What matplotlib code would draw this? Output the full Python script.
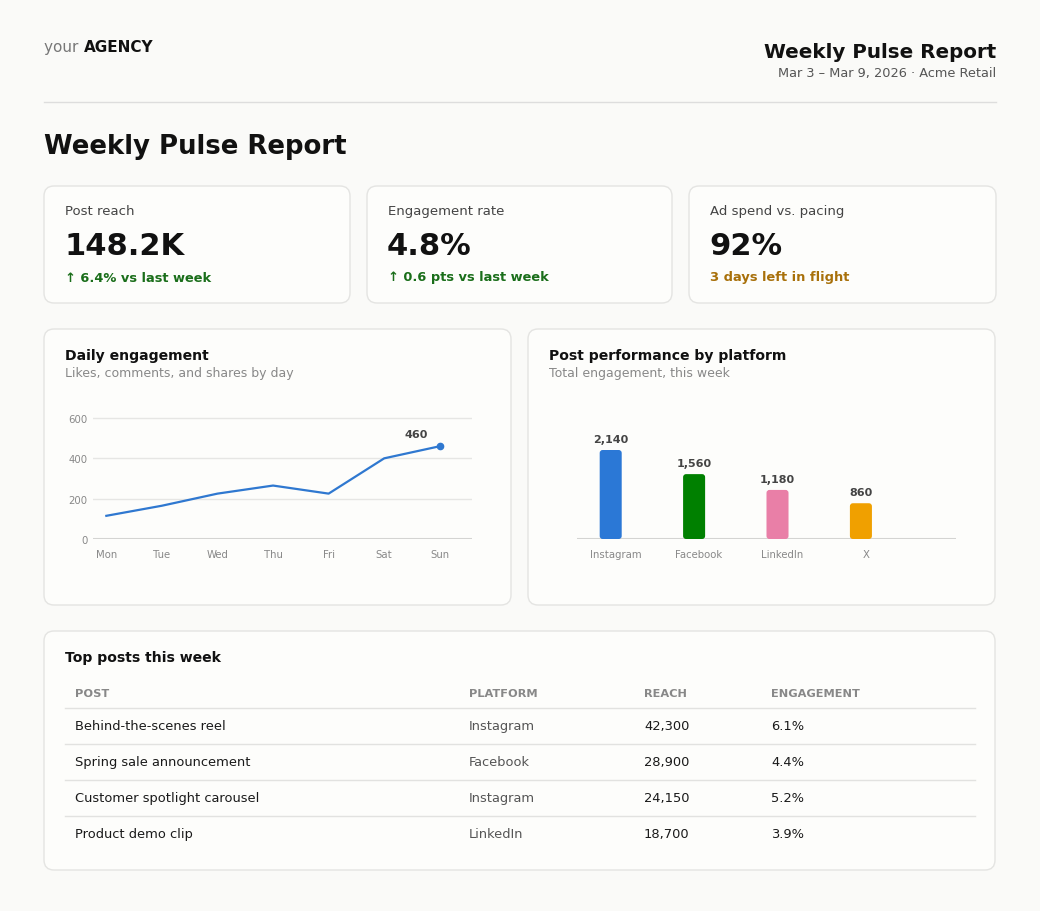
import matplotlib
matplotlib.use("Agg")
import matplotlib.pyplot as plt
from matplotlib.patches import FancyBboxPatch

plt.rcParams['font.family'] = ['DejaVu Sans']

# data
days = ['Mon', 'Tue', 'Wed', 'Thu', 'Fri', 'Sat', 'Sun']
engagement = [115, 165, 225, 265, 225, 400, 460]
y_ticks = [0, 200, 400, 600]

platforms = ['Instagram', 'Facebook', 'LinkedIn', 'X']
platform_totals = [2140, 1560, 1180, 860]
platform_colors = ['#2b78d6', '#008000', '#e97fa7', '#f0a000']

kpi_labels = ['Post reach', 'Engagement rate', 'Ad spend vs. pacing']
kpi_values = ['148.2K', '4.8%', '92%']
kpi_notes = ['\u2191 6.4% vs last week', '\u2191 0.6 pts vs last week', '3 days left in flight']
kpi_note_colors = ['#1a6e1a', '#1a6e1a', '#a8700a']

table_cols = ['POST', 'PLATFORM', 'REACH', 'ENGAGEMENT']
post_names = ['Behind-the-scenes reel', 'Spring sale announcement',
              'Customer spotlight carousel', 'Product demo clip']
post_platforms = ['Instagram', 'Facebook', 'Instagram', 'LinkedIn']
post_reach = [42300, 28900, 24150, 18700]
post_engagement = [6.1, 4.4, 5.2, 3.9]

W, H = 1040, 912
BG = '#fafaf8'
CARD = '#fdfdfb'
BORDER = '#e4e4e2'

fig = plt.figure(figsize=(W / 100, H / 100), dpi=100, facecolor=BG)


def fx(x):
    return x / W


def fy(y):
    return 1 - y / H


def text(x, y, s, size, color='#111111', weight='normal', ha='left', va='center'):
    fig.text(fx(x), fy(y), s, fontsize=size, color=color, fontweight=weight, ha=ha, va=va)


def card(x0, y0, x1, y1):
    p = FancyBboxPatch((x0, H - y1), x1 - x0, y1 - y0,
                       boxstyle='round,pad=0,rounding_size=10',
                       transform=None, facecolor=CARD, edgecolor=BORDER, linewidth=1,
                       zorder=-1)
    fig.patches.append(p)


# header
fig.text(fx(44), fy(48), 'your ', fontsize=11, color='#777777', ha='left', va='center')
text(84, 48, 'AGENCY', 11, weight='bold')
text(996, 52, 'Weekly Pulse Report', 14.3, weight='bold', ha='right')
text(996, 74, 'Mar 3 \u2013 Mar 9, 2026 \u00b7 Acme Retail', 9.3, color='#555555', ha='right')
fig.add_artist(plt.Line2D([fx(44), fx(996)], [fy(103), fy(103)], color='#dddddd', lw=1))
text(44, 147, 'Weekly Pulse Report', 18.7, weight='bold')

# kpi cards
kpi_x = [(44, 350), (367, 672), (689, 996)]
for (x0, x1), lab, val, note, nc in zip(kpi_x, kpi_labels, kpi_values, kpi_notes, kpi_note_colors):
    card(x0, 187, x1, 304)
    text(x0 + 21, 212, lab, 9.5, color='#444444')
    text(x0 + 20, 247, val, 22, weight='bold')
    text(x0 + 21, 278, note, 9.4, color=nc, weight='bold')

# chart cards
card(44, 330, 511, 606)
card(528, 330, 995, 606)
text(65, 356, 'Daily engagement', 10.1, weight='bold')
text(65, 373, 'Likes, comments, and shares by day', 9, color='#888888')
text(549, 356, 'Post performance by platform', 10.1, weight='bold')
text(549, 373, 'Total engagement, this week', 9, color='#888888')

# line chart
ax1 = fig.add_axes([fx(93), fy(540), fx(472) - fx(93), (540 - 412) / H])
ax1.set_facecolor('none')
xs = list(range(len(days)))
ax1.plot(xs, engagement, color='#2f78d0', lw=1.6, clip_on=False)
ax1.plot(xs[-1], engagement[-1], 'o', color='#2f78d0', ms=4.5, clip_on=False)
ax1.annotate(f'{engagement[-1]}', (xs[-1], engagement[-1]), xytext=(-24, 12),
             textcoords='offset pixels', ha='center', va='center',
             fontsize=8, fontweight='bold', color='#444444')
ax1.set_xlim(-0.24, 6.58)
ax1.set_ylim(0, 600 * 128 / 121)
ax1.set_yticks(y_ticks)
ax1.set_yticklabels([str(t) for t in y_ticks])
ax1.set_xticks(xs)
ax1.set_xticklabels(days)
for t in y_ticks[1:]:
    ax1.axhline(t, color='#e6e6e4', lw=1, zorder=0)
ax1.axhline(0, color='#d4d4d2', lw=1.5, zorder=0)
for s in ax1.spines.values():
    s.set_visible(False)
ax1.tick_params(length=0, labelsize=7.3, colors='#888888')
ax1.tick_params(axis='y', pad=4)
ax1.tick_params(axis='x', pad=7)

# bar chart
ax2 = fig.add_axes([fx(577), fy(540), fx(956) - fx(577), (540 - 412) / H])
ax2.set_facecolor('none')
bx = list(range(len(platforms)))
bars = ax2.bar(bx, platform_totals, width=0.264, color=platform_colors)
ax2.set_xlim(-0.404, 4.14)
ymax = 2140 * 128 / 89
ax2.set_ylim(0, ymax)
# round the bar corners
px_x = (4.14 + 0.404) / (956 - 577)
px_y = ymax / 128
for b, c in zip(bars, platform_colors):
    x, y, w, h = b.get_x(), b.get_y(), b.get_width(), b.get_height()
    b.set_visible(False)
    rb = FancyBboxPatch((x, y), w, h, boxstyle=f'round,pad=0,rounding_size={3 * px_x}',
                        mutation_aspect=px_y / px_x, facecolor=c, edgecolor='none')
    ax2.add_patch(rb)
    ax2.text(x + w / 2, h + 11 * px_y, f'{int(h):,}', ha='center', va='center',
             fontsize=8, fontweight='bold', color='#444444')
ax2.axhline(0, color='#d4d4d2', lw=1.5, zorder=0)
ax2.set_xticks([i + 0.06 for i in bx])
ax2.set_xticklabels(platforms)
ax2.set_yticks([])
for s in ax2.spines.values():
    s.set_visible(False)
ax2.tick_params(length=0, labelsize=7.3, colors='#888888', pad=7)

# table
card(44, 632, 995, 871)
text(65, 658, 'Top posts this week', 10.1, weight='bold')
col_x = [75, 469, 644, 771]
for cx, name in zip(col_x, table_cols):
    fig.text(fx(cx), fy(694), name, fontsize=8.2, color='#888888', fontweight='bold',
             ha='left', va='center')
row_lines = [709, 745, 781, 817]
for ly in row_lines:
    fig.add_artist(plt.Line2D([fx(65), fx(975)], [fy(ly), fy(ly)], color='#e2e2e0', lw=1))
for i in range(len(post_names)):
    ry = 727 + 36 * i
    row = [post_names[i], post_platforms[i], f'{post_reach[i]:,}', f'{post_engagement[i]}%']
    colors = ['#1a1a1a', '#555555', '#1a1a1a', '#1a1a1a']
    for cx, val, col in zip(col_x, row, colors):
        text(cx, ry, val, 9.4, color=col)

fig.savefig('out.png', dpi=100, facecolor=BG)
